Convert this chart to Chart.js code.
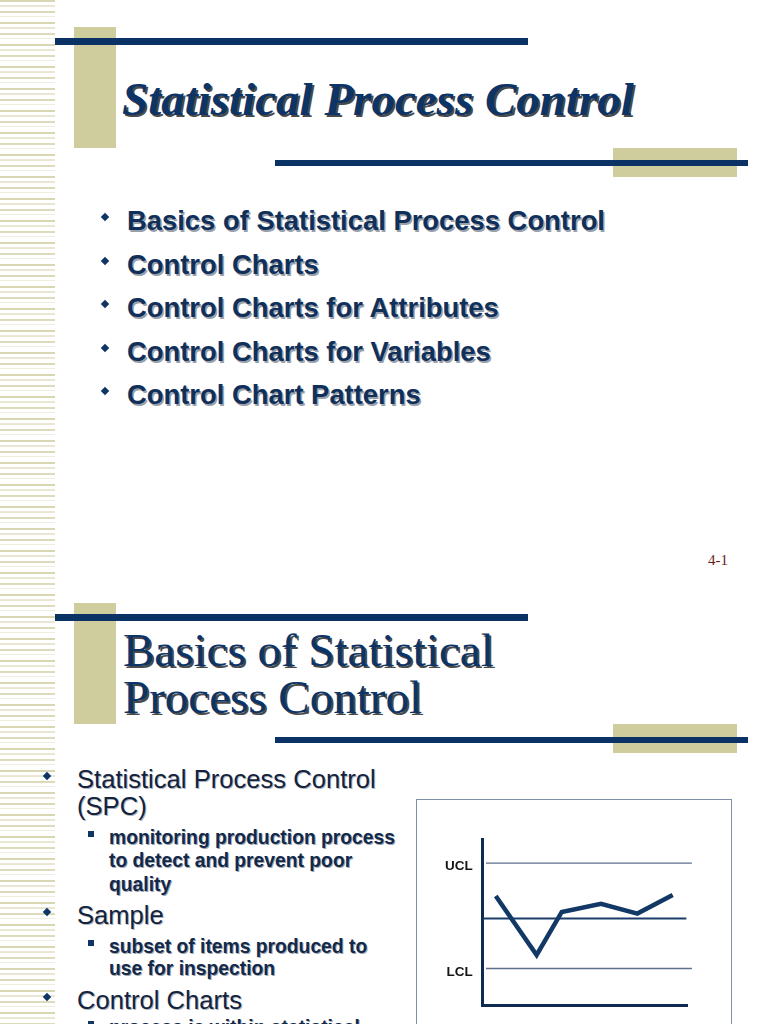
<!DOCTYPE html>
<html>
<head>
<meta charset="utf-8">
<script src="https://cdn.jsdelivr.net/npm/chart.js@4/dist/chart.umd.min.js"></script>
<style>
  html, body { margin: 0; padding: 0; }
  body { width: 768px; height: 1024px; overflow: hidden; background: #fff; position: relative; font-family: "Liberation Sans", Arial, sans-serif; }
  .stripes {
    position: absolute; left: 0; top: 0; width: 55px; height: 1024px;
    background: repeating-linear-gradient(to bottom,
      #d9d6b4 0px, #d9d6b4 2px, #fff 2px, #fff 5px,
      #e9e7d3 5px, #e9e7d3 7px, #fff 7px, #fff 11px,
      #dedbbd 11px, #dedbbd 13px, #fff 13px, #fff 16px,
      #efedde 16px, #efedde 17px, #fff 17px, #fff 22px);
  }
  .bar { position: absolute; background: #0b3265; }
  .olive { position: absolute; background: #cfcc9d; }
  .t { position: absolute; white-space: nowrap; }
  .title1 { font-family: "Liberation Serif", "Times New Roman", serif; font-weight: bold; font-style: italic; font-size: 47px; line-height: 50px; color: #0d3466; text-shadow: 2px 2px 0 #4a4a4a; }
  .title2 { font-family: "Liberation Serif", "Times New Roman", serif; font-size: 47px; line-height: 47px; color: #0d3466; text-shadow: 2px 2px 0 #4a4a4a; }
  .b1 { font-size: 27.4px; font-weight: bold; line-height: 44px; color: #10305a; text-shadow: 1.5px 1.5px 0 #9aa0aa; }
  .l1 { font-size: 25.6px; line-height: 27px; color: #13233d; text-shadow: 1px 1px 0 #b0b4bc; }
  .l2 { font-size: 19.3px; font-weight: bold; line-height: 23px; color: #13294a; text-shadow: 1px 1px 0 #a0a6b0; }
  .dia { position: absolute; width: 6px; height: 6px; background: #0f3566; transform: rotate(45deg); }
  .sq { position: absolute; width: 6px; height: 6px; background: #0f3566; }
  .pg { position: absolute; left: 708px; top: 552px; font-family: "Liberation Serif", serif; font-size: 15px; color: #6a1b1b; }
  .box { position: absolute; left: 416px; top: 799px; width: 314px; height: 300px; border: 1.5px solid #7f90a8; }
  #chart { position: absolute; left: 420px; top: 820px; }
</style>
</head>
<body>
<div class="stripes"></div>

<!-- slide 1 -->
<div class="olive" style="left:74px; top:27px; width:42px; height:121px;"></div>
<div class="bar" style="left:55px; top:38px; width:473px; height:7px;"></div>
<div class="t title1" style="left:122px; top:74px;">Statistical Process Control</div>
<div class="olive" style="left:613px; top:148px; width:124px; height:29px;"></div>
<div class="bar" style="left:275px; top:160px; width:473px; height:6px;"></div>

<div class="dia" style="left:102px; top:214px;"></div>
<div class="t b1" style="left:127px; top:199px;">Basics of Statistical Process Control</div>
<div class="dia" style="left:102px; top:258px;"></div>
<div class="t b1" style="left:127px; top:243px;">Control Charts</div>
<div class="dia" style="left:102px; top:301px;"></div>
<div class="t b1" style="left:127px; top:286px;">Control Charts for Attributes</div>
<div class="dia" style="left:102px; top:345px;"></div>
<div class="t b1" style="left:127px; top:330px;">Control Charts for Variables</div>
<div class="dia" style="left:102px; top:388px;"></div>
<div class="t b1" style="left:127px; top:373px;">Control Chart Patterns</div>

<div class="pg">4-1</div>

<!-- slide 2 -->
<div class="olive" style="left:74px; top:603px; width:42px; height:121px;"></div>
<div class="bar" style="left:55px; top:614px; width:473px; height:7px;"></div>
<div class="t title2" style="left:123px; top:627px;">Basics of Statistical</div>
<div class="t title2" style="left:123px; top:674px;">Process Control</div>
<div class="olive" style="left:613px; top:724px; width:124px; height:29px;"></div>
<div class="bar" style="left:275px; top:737px; width:473px; height:6px;"></div>

<div class="dia" style="left:44px; top:773px;"></div>
<div class="t l1" style="left:77px; top:766px;">Statistical Process Control</div>
<div class="t l1" style="left:77px; top:793px;">(SPC)</div>
<div class="sq" style="left:88px; top:831px;"></div>
<div class="t l2" style="left:109px; top:826px;">monitoring production process</div>
<div class="t l2" style="left:109px; top:849px;">to detect and prevent poor</div>
<div class="t l2" style="left:109px; top:873px;">quality</div>
<div class="dia" style="left:44px; top:909px;"></div>
<div class="t l1" style="left:77px; top:902px;">Sample</div>
<div class="sq" style="left:88px; top:940px;"></div>
<div class="t l2" style="left:109px; top:935px;">subset of items produced to</div>
<div class="t l2" style="left:109px; top:957px;">use for inspection</div>
<div class="dia" style="left:44px; top:994px;"></div>
<div class="t l1" style="left:77px; top:987px;">Control Charts</div>
<div class="sq" style="left:88px; top:1021px;"></div>
<div class="t l2" style="left:109px; top:1016px;">process is within statistical</div>

<div class="box"></div>
<canvas id="chart" width="300" height="204"></canvas>

<script>
// sample points (axis units 0-100)
const sampleX = [6.4, 26.4, 38.7, 57.9, 75.7, 93.0];
const sampleY = [65.8, 30.5, 56.3, 61.2, 55.3, 66.4];

// control limits
const limitLabels = ['LCL', 'UCL'];
const limitValues = [22.4, 85.6];
const centerValue = 52.4;
const limitSpan = [1.6, 102.4];
const centerSpan = [0, 99.7];

const hline = (y, span) => span.map(x => ({ x: x, y: y }));

new Chart(document.getElementById('chart').getContext('2d'), {
    type: 'line',
    data: {
        datasets: [
            {
                label: 'Sample',
                data: sampleX.map((x, i) => ({ x: x, y: sampleY[i] })),
                borderColor: '#123866',
                borderWidth: 4.5,
                borderJoinStyle: 'miter',
                pointRadius: 0,
                tension: 0
            },
            {
                label: 'UCL',
                data: hline(limitValues[1], limitSpan),
                borderColor: '#5d708b',
                borderWidth: 1.3,
                pointRadius: 0,
                clip: false
            },
            {
                label: 'Center',
                data: hline(centerValue, centerSpan),
                borderColor: '#1c3d69',
                borderWidth: 2,
                pointRadius: 0,
                clip: false
            },
            {
                label: 'LCL',
                data: hline(limitValues[0], limitSpan),
                borderColor: '#5d708b',
                borderWidth: 1.3,
                pointRadius: 0,
                clip: false
            }
        ]
    },
    options: {
        responsive: false,
        animation: false,
        events: [],
        layout: { padding: { left: 22.7, top: 19, right: 33, bottom: 13.3 } },
        plugins: {
            legend: { display: false },
            tooltip: { enabled: false }
        },
        scales: {
            x: {
                type: 'linear',
                min: 0,
                max: 100,
                grid: { display: false },
                ticks: { display: false },
                border: { color: '#0e2a50', width: 3 },
                afterFit: s => { s.height = 0; }
            },
            y: {
                type: 'linear',
                min: 0,
                max: 100,
                grid: { display: false, drawTicks: false },
                border: { color: '#0e2a50', width: 3 },
                afterBuildTicks: s => { s.ticks = limitValues.map(v => ({ value: v })); },
                ticks: {
                    autoSkip: false,
                    padding: 10,
                    labelOffset: 3.5,
                    color: '#151515',
                    font: { family: 'Liberation Sans', size: 13.5, weight: 'bold' },
                    callback: (v, i) => limitLabels[i]
                },
                // fixed width so the labels sit 10px left of the axis
                afterFit: s => { s.width = 40; }
            }
        }
    }
});
</script>
</body>
</html>
